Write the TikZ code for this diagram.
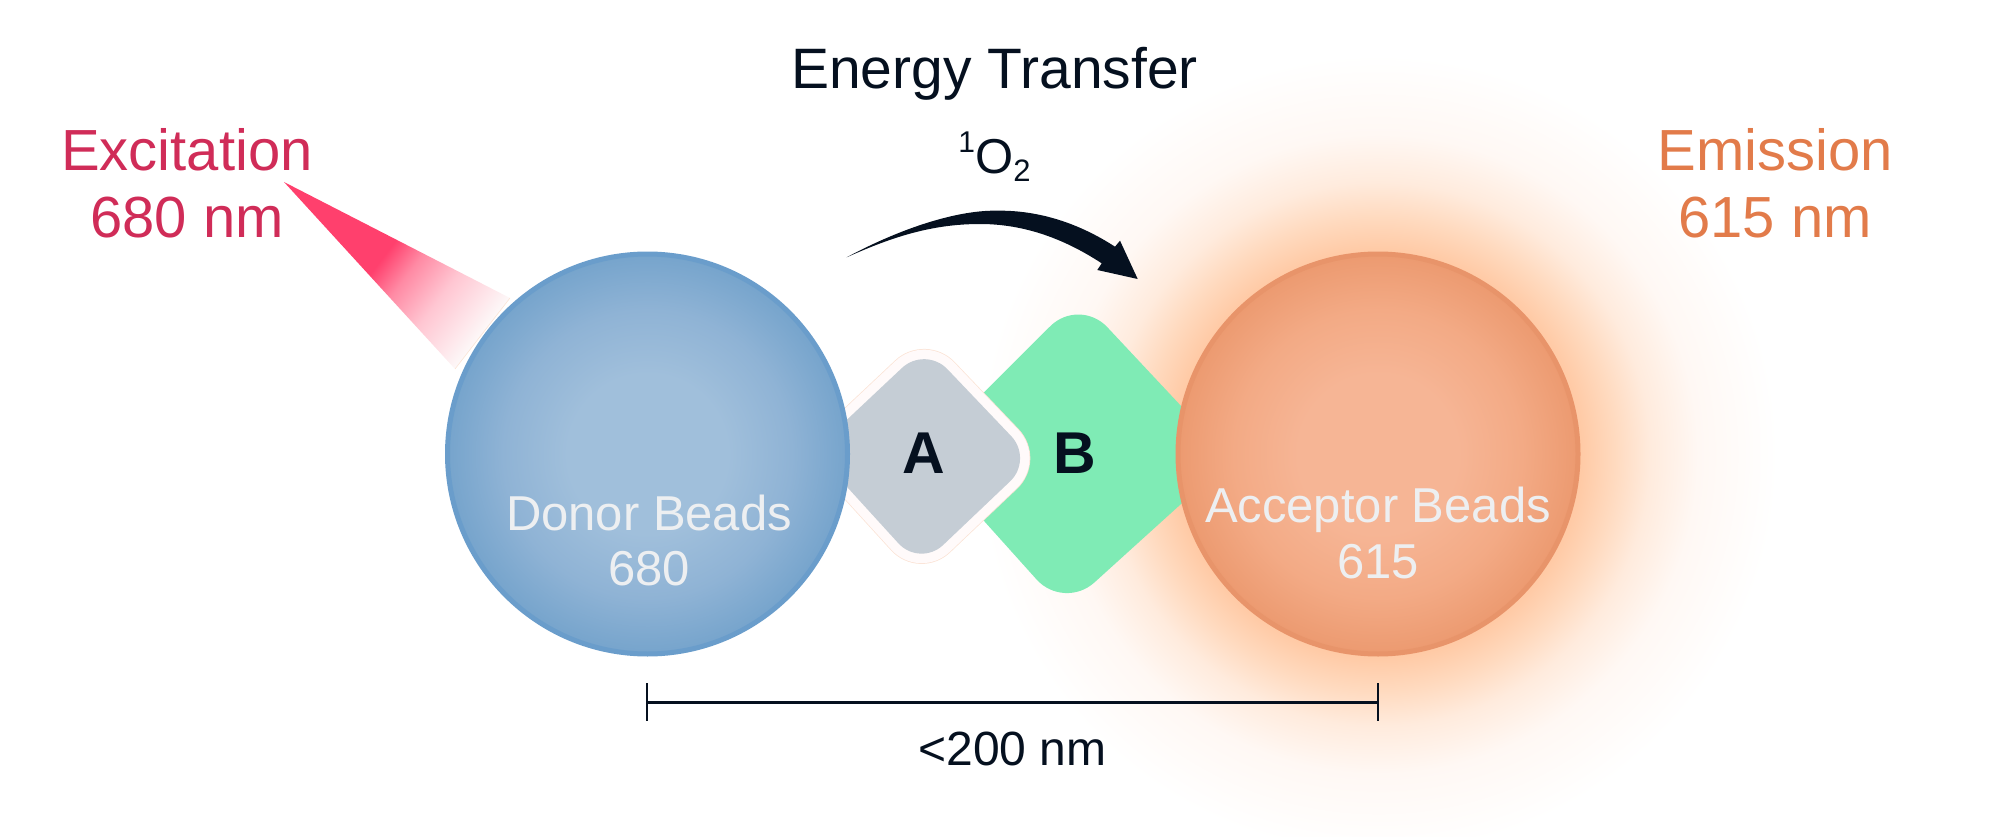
\documentclass[tikz,border=0pt]{standalone}
\usepackage{fontspec}
\setmainfont{Liberation Sans}
\definecolor{inkc}{HTML}{05101F}
\definecolor{excitec}{HTML}{D02C58}
\definecolor{emitc}{HTML}{E27B4A}
\definecolor{beamc}{HTML}{FF406D}
\definecolor{beamd}{HTML}{FF8AA4}
\definecolor{beame}{HTML}{FFC6D2}
\definecolor{beamf}{HTML}{FDF8F8}
\definecolor{glowa}{HTML}{FFC9A4}
\definecolor{glowb}{HTML}{FFDABF}
\definecolor{glowc}{HTML}{FFEBDD}
\definecolor{glowd}{HTML}{FFF8F4}
\definecolor{donora}{HTML}{A0BFDB}
\definecolor{donorb}{HTML}{8FB3D5}
\definecolor{donorc}{HTML}{76A4CC}
\definecolor{donorr}{HTML}{6A9DCB}
\definecolor{accepa}{HTML}{F6B595}
\definecolor{accepb}{HTML}{F3AA85}
\definecolor{accepc}{HTML}{EC9A70}
\definecolor{accepr}{HTML}{E8946A}
\definecolor{grayd}{HTML}{C5CDD5}
\definecolor{greend}{HTML}{7FEBB5}
\definecolor{halod}{HTML}{FFFAFA}
\definecolor{haloe}{HTML}{FBE3D5}
\definecolor{beadtext}{HTML}{EDEFF1}
\pgfdeclareradialshading{glowshade}{\pgfpoint{0bp}{0bp}}{color(0bp)=(glowa);color(12.6bp)=(glowa);color(14.8bp)=(glowb);color(17bp)=(glowc);color(20bp)=(glowd);color(25bp)=(white);color(50bp)=(white)}
\pgfdeclareradialshading{donorshade}{\pgfpoint{0bp}{0bp}}{color(0bp)=(donora);color(10bp)=(donora);color(18bp)=(donorb);color(25bp)=(donorc);color(50bp)=(donorc)}
\pgfdeclareradialshading{accepshade}{\pgfpoint{0bp}{0bp}}{color(0bp)=(accepa);color(10bp)=(accepa);color(18bp)=(accepb);color(25bp)=(accepc);color(50bp)=(accepc)}
\pgfdeclarehorizontalshading{beamshade}{100bp}{color(0bp)=(beamc);color(50bp)=(beamc);color(53bp)=(beamd);color(57bp)=(beame);color(62.5bp)=(beamf);color(100bp)=(beamf)}
\tikzset{
  every node/.style={inner sep=0pt,outer sep=0pt},
  txt/.style={anchor=base,align=center},
  bigtxt/.style={txt,font=\fontsize{58}{58}\selectfont},
  beadtxt/.style={txt,text=beadtext,font=\fontsize{49}{49}\selectfont},
  bead/.style={circle,minimum size=400pt,draw,line width=5pt},
  letter/.style={txt,text=inkc,font=\fontsize{59}{59}\selectfont\bfseries},
}
\begin{document}
\begin{tikzpicture}[x=1pt,y=-1pt]
\useasboundingbox (0,0) rectangle (1991,837);
% glow
\node[circle,minimum size=800pt,shading=glowshade] (glow) at (1378,454) {};
% beam
\begin{scope}
\clip (284,182) -- (510,298) -- (455,369) -- cycle;
\shade[shading=beamshade,shading angle=-37.3] (133,7) rectangle (633,507);
\end{scope}
\draw[haloe,line width=0.6pt] (510,298) -- (455,369);
% B diamond
\fill[greend,rounded corners=41pt] (1079.3,297.3) -- (1230.7,459) -- (1064,610) -- (923,453) -- cycle;
% A diamond
\draw[haloe,line width=20.5pt,rounded corners=32pt] (925.3,346) -- (1033.3,459.3) -- (920,567) -- (814,450.7) -- cycle;
\draw[halod,line width=19pt,rounded corners=32pt,fill=halod] (925.3,346) -- (1033.3,459.3) -- (920,567) -- (814,450.7) -- cycle;
\fill[grayd,rounded corners=32pt] (925.3,346) -- (1033.3,459.3) -- (920,567) -- (814,450.7) -- cycle;
\node[letter] (labA) at (923.7,473) {A};
\node[letter] (labB) at (1075,473) {B};
% beads
\node[bead,shading=donorshade,draw=donorr] (donor) at (647.5,454) {};
\node[bead,shading=accepshade,draw=accepr] (acceptor) at (1378,454) {};
\node[beadtxt] (donorA) at (649,530) {Donor Beads};
\node[beadtxt] (donorB) at (649,585) {680};
\node[beadtxt] (accA) at (1378,522) {Acceptor Beads};
\node[beadtxt] (accB) at (1378,578) {615};
% side labels
\node[bigtxt,text=excitec] (excA) at (187,171) {Excitation};
\node[bigtxt,text=excitec] (excB) at (187,237) {680 nm};
\node[bigtxt,text=emitc] (emiA) at (1775,171) {Emission};
\node[bigtxt,text=emitc] (emiB) at (1775,237) {615 nm};
% title
\node[txt,text=inkc,font=\fontsize{57}{57}\selectfont] (title) at (994.5,89) {Energy Transfer};
\node[txt,text=inkc,font=\fontsize{49}{49}\selectfont] (oxy) at (994.5,174) {\raisebox{21pt}{\fontsize{30}{30}\selectfont 1}O\raisebox{-8pt}{\fontsize{31}{31}\selectfont 2}};
% swoosh arrow
\coordinate (tail) at (846.7,257.3);
\coordinate (tip) at (1137.7,279);
\fill[inkc] (tail) .. controls (905,226) and (960,210) .. (996.7,210.7)
  .. controls (1040,210) and (1080,224) .. (1115,246.7)
  -- (1120,240.7) -- (tip) -- (1097.3,270) -- (1101.7,263.3)
  .. controls (1060,236) and (1020,224) .. (980,224)
  .. controls (930,224) and (890,238) .. (tail) -- cycle;
% bracket
\coordinate (bl) at (647,702);
\coordinate (br) at (1378,702);
\draw[inkc,line width=3pt] (bl) -- (br);
\draw[inkc,line width=2.5pt] ([yshift=19pt]bl) -- ([yshift=-19pt]bl);
\draw[inkc,line width=2.5pt] ([yshift=19pt]br) -- ([yshift=-19pt]br);
\node[txt,text=inkc,font=\fontsize{48}{48}\selectfont] (dist) at (1012.5,765) {<200 nm};
\end{tikzpicture}
\end{document}
